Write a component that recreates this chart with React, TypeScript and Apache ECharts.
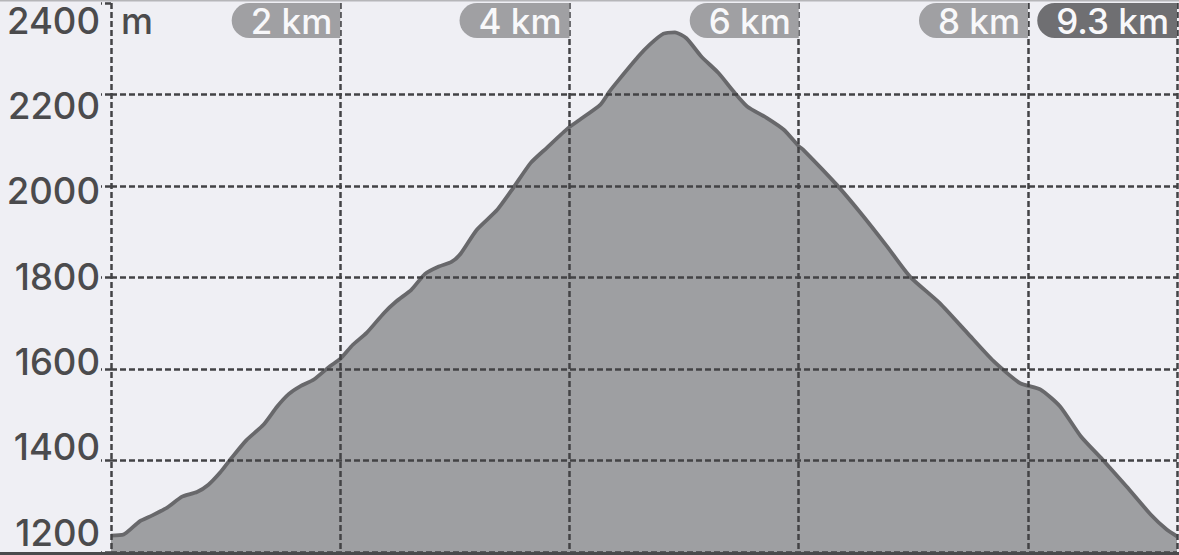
import React, { useEffect, useRef } from "react";
import * as echarts from "echarts";

// distance along the route (km) and elevation (m)
const distanceKm = [
  0, 0.11, 0.25, 0.36, 0.49, 0.62, 0.75, 0.85, 0.95, 1.05, 1.18, 1.33, 1.45,
  1.55, 1.65, 1.77, 1.91, 2.0, 2.11, 2.23, 2.38, 2.49, 2.62, 2.74, 2.86, 2.97,
  3.05, 3.19, 3.37, 3.51, 3.66, 3.8, 3.99, 4.09, 4.27, 4.35, 4.43, 4.6, 4.7,
  4.82, 4.92, 5.02, 5.15, 5.3, 5.43, 5.55, 5.72, 5.87, 6.0, 6.04, 6.33, 6.54,
  6.77, 6.97, 7.23, 7.47, 7.7, 7.93, 8.11, 8.28, 8.46, 8.65, 8.86, 9.07, 9.21,
  9.3,
];
const elevationM = [
  1236, 1238, 1267, 1280, 1297, 1321, 1331, 1347, 1373, 1405, 1444, 1478, 1518,
  1545, 1562, 1577, 1606, 1622, 1653, 1679, 1722, 1748, 1773, 1808, 1824, 1834,
  1852, 1904, 1948, 1996, 2050, 2083, 2127, 2145, 2178, 2207, 2232, 2283, 2309,
  2333, 2336, 2323, 2283, 2247, 2207, 2174, 2149, 2123, 2087, 2079, 2003, 1941,
  1868, 1802, 1744, 1679, 1617, 1569, 1555, 1518, 1453, 1402, 1343, 1282, 1249,
  1234,
];

const kmTicks = [2, 4, 6, 8];
const totalKm = 9.3;
const elevationTicks = [1200, 1400, 1600, 1800, 2000, 2200, 2400];

export default function App() {
  const chartRef = useRef<HTMLDivElement>(null);

  useEffect(() => {
    if (!chartRef.current) return;
    const chart = echarts.init(chartRef.current, null, { renderer: "svg" });

    const dash = { color: "#434345", width: 2.5, type: [6, 3] as number[] };
    const font = "Inter";
    const pillBase = {
      color: "#f8f8fa",
      fontFamily: font,
      fontWeight: 500,
      fontSize: 35,
      height: 35,
      lineHeight: 35,
      padding: [0, 8, 0, 19],
      borderRadius: [17.5, 0, 0, 17.5],
    };

    const option: echarts.EChartsOption = {
      animation: false,
      backgroundColor: "#efeff4",
      grid: {
        left: 111,
        right: 2,
        top: 3,
        bottom: 3,
        outerBoundsMode: "none",
      } as any,
      xAxis: {
        type: "value",
        position: "top",
        min: 0,
        max: totalKm,
        interval: 2,
        z: 5,
        axisLine: { show: false },
        axisTick: { show: false },
        splitLine: { show: true, lineStyle: dash },
        axisLabel: {
          customValues: [...kmTicks, totalKm],
          inside: true,
          margin: 0,
          align: "right",
          verticalAlign: "top",
          formatter: (v: number) =>
            v === totalKm ? `{last|${v} km}` : `{pill|${v} km}`,
          rich: {
            pill: { ...pillBase, backgroundColor: "#a0a0a3" },
            last: { ...pillBase, backgroundColor: "#6f6f72" },
          },
        } as any,
      },
      yAxis: [
        {
          type: "value",
          min: 1200,
          max: 2400,
          interval: 200,
          z: 5,
          axisLine: { show: false },
          axisTick: { show: true, length: 10, lineStyle: dash },
          axisLabel: { show: false },
          splitLine: { show: true, showMaxLine: false, lineStyle: dash } as any,
        },
        {
          // labels are spread evenly, not on the grid lines
          type: "value",
          position: "left",
          min: 1154.8,
          max: 2441.5,
          axisLine: { show: false },
          axisTick: { show: false },
          splitLine: { show: false },
          axisLabel: {
            customValues: elevationTicks,
            formatter: (v: number) => String(v),
            margin: 11,
            color: "#4b4b4d",
            fontFamily: font,
            fontWeight: 500,
            fontSize: 36.5,
          } as any,
        },
      ],
      graphic: [
        {
          type: "text",
          x: 121,
          y: 21,
          style: {
            text: "m",
            fill: "#4b4b4d",
            font: `500 36px ${font}`,
            verticalAlign: "middle",
          },
        },
        {
          type: "rect",
          z: 100,
          shape: { x: 0, y: 0, width: 1179, height: 1.5 },
          style: { fill: "#b6b6b9" },
        },
        {
          type: "rect",
          z: 100,
          shape: { x: 0, y: 552, width: 1179, height: 3 },
          style: { fill: "#4a4a4c" },
        },
      ],
      series: [
        {
          type: "line",
          xAxisIndex: 0,
          yAxisIndex: 0,
          data: distanceKm.map((d, i) => [d, elevationM[i]]),
          showSymbol: false,
          smooth: 0.2,
          lineStyle: { color: "#68686b", width: 3.8 },
          areaStyle: { color: "#9e9fa2", opacity: 1, origin: "start" },
        },
      ],
    };

    chart.setOption(option);
    return () => chart.dispose();
  }, []);

  return (
    <div
      ref={chartRef}
      style={{ position: "fixed", left: 0, top: 0, width: 1179, height: 555 }}
    />
  );
}
